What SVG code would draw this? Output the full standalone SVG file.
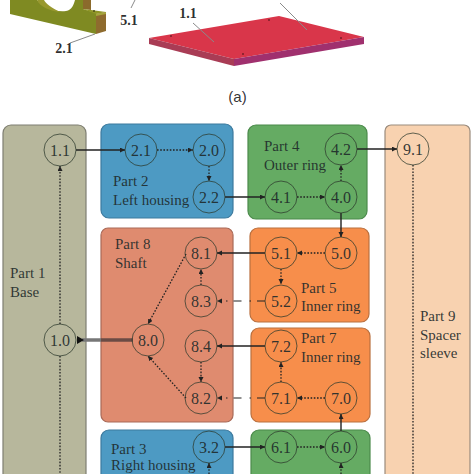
<svg xmlns="http://www.w3.org/2000/svg" width="474" height="474" viewBox="0 0 474 474">
<style>
text{font-family:"Liberation Serif","Times New Roman",serif;fill:#1f2b2b;fill-opacity:.92}
.lab{font-size:15px}
.num{font-size:16px;text-anchor:middle}
.call{font-family:"Liberation Serif",serif;font-size:14px;font-weight:bold;fill:#1a1a1a;text-anchor:middle}
.box{stroke-width:1.2}
.n{fill:none;stroke:#2c3a2c;stroke-opacity:.75;stroke-width:1}
.s{fill:none;stroke:#222;stroke-width:1.4}
.d{fill:none;stroke:#222;stroke-width:1.3;stroke-dasharray:1.6 1.6}
.m{fill:none;stroke:#222;stroke-width:1.2;stroke-dasharray:8 6 1.500 8 8 6 1.500 9}
.lead{fill:none;stroke:#8a8a8a;stroke-width:1}
</style>
<defs>
<marker id="a" markerWidth="6" markerHeight="6" refX="5" refY="2.5" orient="auto" markerUnits="userSpaceOnUse"><path d="M0 0L5 2.500L0 5Z" fill="#222"/></marker>
</defs>
<rect width="474" height="474" fill="#fff"/>
<g id="bracket">
<path d="M10 0L10 14L96 34L96 13L83 9L83 0Z" fill="#7f8a22"/>
<path d="M37 0C40 5 55 13 66 11C72 10 74 4 75 0Z" fill="#fff"/>
<path d="M37 0C40 7 50 11 60 12C52 8 46 4 44 0Z" fill="#98982e"/>
<path d="M83 0H91V10L83 9Z" fill="#8b6a2c"/>
<path d="M83 9L91 10L106 12L96 14Z" fill="#8f9626"/>
<path d="M96 14L106 12V31L96 34Z" fill="#8e6b2e"/>
<path d="M96 14L106 12V14L96 16Z" fill="#a5a53a"/>
<circle cx="94" cy="11" r="1" fill="#4d4d1a"/>
</g>
<g id="plate">
<path d="M149 38L279 16L364 37L234 59Z" fill="#d9364a"/>
<path d="M149 38L234 59V66L149 44Z" fill="#a93c55"/>
<path d="M234 59L364 37V44L234 66Z" fill="#a0306e"/>
<g fill="#7a1e28"><circle cx="171" cy="36" r="1"/><circle cx="269" cy="20" r="1"/><circle cx="243" cy="54" r="1"/><circle cx="341" cy="38" r="1"/></g>
</g>
<g id="callouts">
<path class="lead" d="M70 43L95 34M131 8L135 0M193 23L214 42M280 3L307 30"/>
<text class="call" x="64" y="53">2.1</text>
<text class="call" x="129" y="25">5.1</text>
<text class="call" x="188" y="18">1.1</text>
<text x="237.500" y="102" text-anchor="middle" style="font-family:'Liberation Sans',sans-serif;font-size:15px;fill:#222">(a)</text>
</g>
<g id="part1"><rect class="box" x="3" y="125" width="83" height="370" rx="8" fill="#b7b79c" stroke="#7f7f72"/><text class="lab" x="10" y="278">Part 1</text><text class="lab" x="10" y="297">Base</text></g>
<g id="part2"><rect class="box" x="101" y="124" width="132" height="94" rx="8" fill="#4d9ac3" stroke="#3d7a9e"/><text class="lab" x="113" y="186">Part 2</text><text class="lab" x="113" y="205">Left housing</text></g>
<g id="part8"><rect class="box" x="101" y="228" width="132" height="194" rx="7" fill="#df8b6f" stroke="#a96a58"/><text class="lab" x="115" y="249">Part 8</text><text class="lab" x="115" y="268">Shaft</text></g>
<g id="part3"><rect class="box" x="101" y="430" width="132" height="60" rx="8" fill="#4d9ac3" stroke="#3d7a9e"/><text class="lab" x="111" y="454">Part 3</text><text class="lab" x="111" y="470">Right housing</text></g>
<g id="part4"><rect class="box" x="248" y="125" width="119" height="94" rx="8" fill="#65ab63" stroke="#4b8a4b"/><text class="lab" x="264" y="151">Part 4</text><text class="lab" x="264" y="170">Outer ring</text></g>
<g id="part5"><rect class="box" x="250" y="228" width="119" height="94" rx="8" fill="#f78e4b" stroke="#b9703f"/><text class="lab" x="301" y="293">Part 5</text><text class="lab" x="301" y="311">Inner ring</text></g>
<g id="part7"><rect class="box" x="251" y="328" width="119" height="94" rx="8" fill="#f78e4b" stroke="#b9703f"/><text class="lab" x="301" y="343">Part 7</text><text class="lab" x="301" y="362">Inner ring</text></g>
<g id="part6"><rect class="box" x="251" y="430" width="119" height="60" rx="8" fill="#65ab63" stroke="#4b8a4b"/></g>
<g id="part9"><rect class="box" x="385" y="125" width="85" height="370" rx="6" fill="#f8d2b0" stroke="#9a8b7c"/><text class="lab" x="420" y="321">Part 9</text><text class="lab" x="420" y="340">Spacer</text><text class="lab" x="420" y="358">sleeve</text></g>
<g id="connectors">
<path d="M133 340H101" fill="none" stroke="#6b4b44" stroke-width="3.500"/>
<path d="M101 340H82" fill="none" stroke="#777" stroke-width="3.500"/>
<path d="M84 340L77 336V344Z" fill="#111" transform="scale(1)"/>
<g class="solid">
<path class="s" marker-end="url(#a)" d="M76 150H125"/>
<path class="s" marker-end="url(#a)" d="M225 197H265"/>
<path class="s" marker-end="url(#a)" d="M357 149H397"/>
<path class="s" marker-end="url(#a)" d="M341 213V237"/>
<path class="s" marker-end="url(#a)" d="M265 253H217"/>
<path class="s" marker-end="url(#a)" d="M265 346H217"/>
<path class="s" marker-end="url(#a)" d="M225 447H265"/>
<path class="s" marker-end="url(#a)" d="M341 431V414"/>
</g>
<g class="dotted">
<path class="d" marker-end="url(#a)" d="M60 324V166"/>
<path class="d" d="M60 356V474"/>
<path class="d" marker-end="url(#a)" d="M157 150H193"/>
<path class="d" marker-end="url(#a)" d="M209 166V181"/>
<path class="d" marker-end="url(#a)" d="M341 181V165"/>
<path class="d" marker-end="url(#a)" d="M297 197H325"/>
<path class="d" d="M413 165V474"/>
<path class="d" marker-end="url(#a)" d="M325 253H297"/>
<path class="d" marker-end="url(#a)" d="M281 269V284"/>
<path class="d" marker-end="url(#a)" d="M201 285V269"/>
<path class="d" marker-end="url(#a)" d="M186 254L148 324"/>
<path class="d" marker-end="url(#a)" d="M201 362V382"/>
<path class="d" marker-end="url(#a)" d="M186 398L148 356"/>
<path class="d" marker-end="url(#a)" d="M281 382V362"/>
<path class="d" marker-end="url(#a)" d="M325 398H297"/>
<path class="d" marker-end="url(#a)" d="M297 447H325"/>
<path class="d" marker-end="url(#a)" d="M209 474V463"/>
<path class="d" marker-end="url(#a)" d="M341 474V463"/>
</g>
<path class="m" marker-end="url(#a)" d="M265 301H217"/>
<path class="m" marker-end="url(#a)" d="M265 398H217"/>
</g>
<g id="n1.1"><circle class="n" cx="60" cy="150" r="16"/><text class="num" x="60" y="155.500">1.1</text></g>
<g id="n1.0"><circle class="n" cx="60" cy="340" r="16"/><text class="num" x="60" y="345.500">1.0</text></g>
<g id="n2.1"><circle class="n" cx="141" cy="150" r="16"/><text class="num" x="141" y="155.500">2.1</text></g>
<g id="n2.0"><circle class="n" cx="209" cy="150" r="16"/><text class="num" x="209" y="155.500">2.0</text></g>
<g id="n2.2"><circle class="n" cx="209" cy="197" r="16"/><text class="num" x="209" y="202.500">2.2</text></g>
<g id="n4.2"><circle class="n" cx="341" cy="149" r="16"/><text class="num" x="341" y="154.500">4.2</text></g>
<g id="n4.1"><circle class="n" cx="281" cy="197" r="16"/><text class="num" x="281" y="202.500">4.1</text></g>
<g id="n4.0"><circle class="n" cx="341" cy="197" r="16"/><text class="num" x="341" y="202.500">4.0</text></g>
<g id="n9.1"><circle class="n" cx="413" cy="149" r="16"/><text class="num" x="413" y="154.500">9.1</text></g>
<g id="n5.1"><circle class="n" cx="281" cy="253" r="16"/><text class="num" x="281" y="258.500">5.1</text></g>
<g id="n5.0"><circle class="n" cx="341" cy="253" r="16"/><text class="num" x="341" y="258.500">5.0</text></g>
<g id="n5.2"><circle class="n" cx="281" cy="301" r="16"/><text class="num" x="281" y="306.500">5.2</text></g>
<g id="n8.1"><circle class="n" cx="201" cy="253" r="16"/><text class="num" x="201" y="258.500">8.1</text></g>
<g id="n8.3"><circle class="n" cx="201" cy="301" r="16"/><text class="num" x="201" y="306.500">8.3</text></g>
<g id="n8.0"><circle class="n" cx="148" cy="340" r="16"/><text class="num" x="148" y="345.500">8.0</text></g>
<g id="n8.4"><circle class="n" cx="201" cy="346" r="16"/><text class="num" x="201" y="351.500">8.4</text></g>
<g id="n8.2"><circle class="n" cx="201" cy="398" r="16"/><text class="num" x="201" y="403.500">8.2</text></g>
<g id="n7.2"><circle class="n" cx="281" cy="346" r="16"/><text class="num" x="281" y="351.500">7.2</text></g>
<g id="n7.1"><circle class="n" cx="281" cy="398" r="16"/><text class="num" x="281" y="403.500">7.1</text></g>
<g id="n7.0"><circle class="n" cx="341" cy="398" r="16"/><text class="num" x="341" y="403.500">7.0</text></g>
<g id="n3.2"><circle class="n" cx="209" cy="447" r="16"/><text class="num" x="209" y="452.500">3.2</text></g>
<g id="n6.1"><circle class="n" cx="281" cy="447" r="16"/><text class="num" x="281" y="452.500">6.1</text></g>
<g id="n6.0"><circle class="n" cx="341" cy="447" r="16"/><text class="num" x="341" y="452.500">6.0</text></g>
</svg>
